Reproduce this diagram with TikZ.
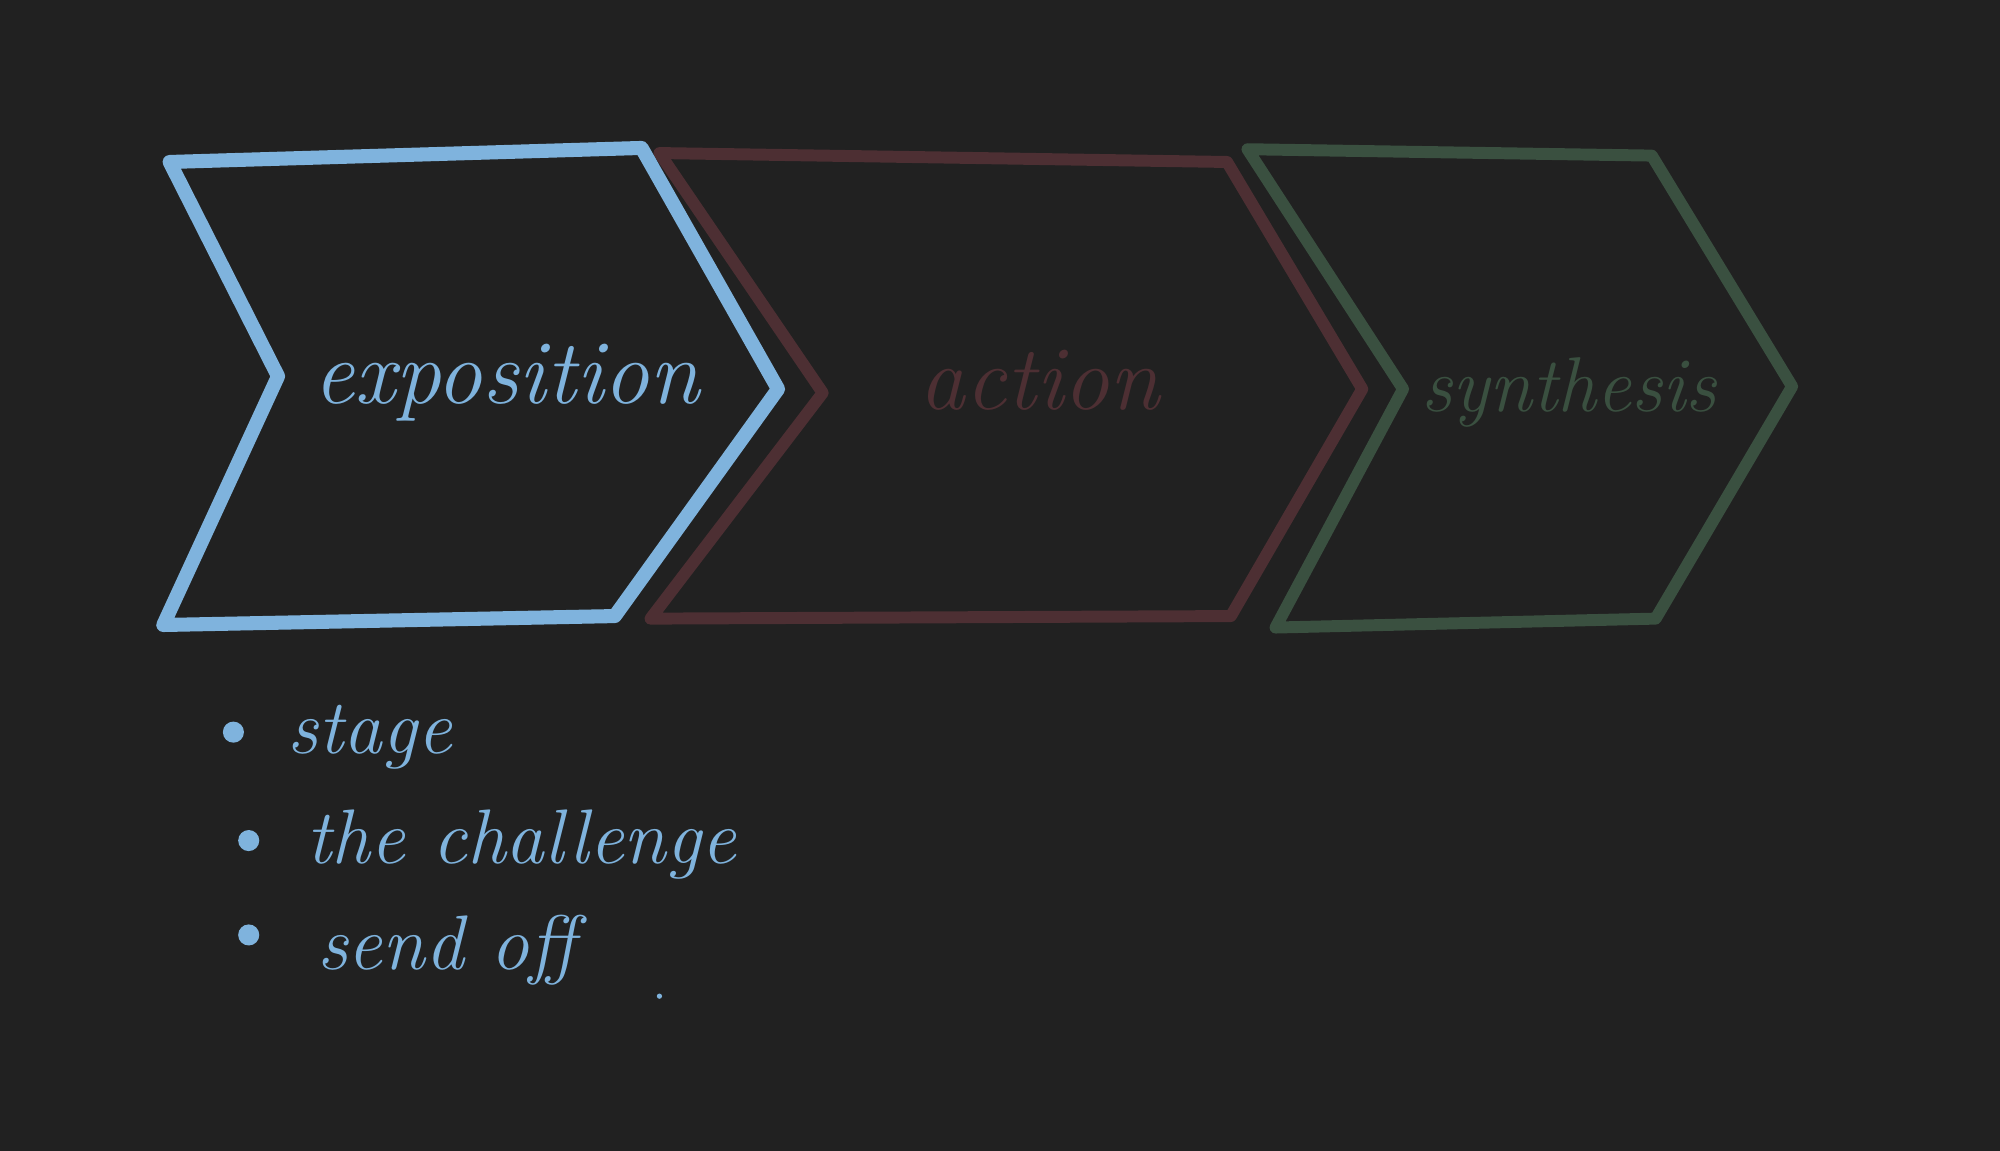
\documentclass[tikz,border=0pt]{standalone}
\usepackage{fontspec}
\definecolor{bg}{HTML}{212121}
\definecolor{cblue}{HTML}{7FB3DD}
\definecolor{cred}{HTML}{4D2F33}
\definecolor{cgreen}{HTML}{3A5040}
\tikzset{
  chev/.style={line width=3.4pt, line join=round, line cap=round},
  lbl/.style={font=\fontsize{26}{30}\selectfont\itshape, inner sep=0pt},
  itm/.style={font=\fontsize{22}{26}\selectfont\itshape, inner sep=0pt, anchor=west, text=cblue},
  dotm/.style={circle, fill=cblue, minimum size=6pt, inner sep=0pt}
}
\begin{document}
\begin{tikzpicture}[x=0.012755cm, y=-0.012755cm]
\fill[bg] (0,0) rectangle (1568,902);
\useasboundingbox (0,0) rectangle (1568,902);
\draw[chev, cgreen] (978,117) -- (1295,122) -- (1405,303) -- (1298,485) -- (1000,492) -- (1100,305) -- cycle;
\draw[chev, cred] (517,120) -- (962,127) -- (1068,305) -- (965,483) -- (510,485) -- (645,308) -- cycle;
\draw[chev, cblue, line width=4pt] (133,127) -- (503,116) -- (610,305) -- (482,483) -- (128,490) -- (218,295) -- cycle;
\node[lbl, text=cblue] (expo) at (397,300) {exposition};
\node[lbl, text=cred] (act) at (815,298) {action};
\node[lbl, text=cgreen, scale=0.85] (syn) at (1230,308) {synthesis};
\node[dotm] (d1) at (183,574) {};
\node[dotm] (d2) at (195,659) {};
\node[dotm] (d3) at (195,733) {};
\node[itm] (t1) at (225,578) {stage};
\node[itm] (t2) at (240,662) {the challenge};
\node[itm] (t3) at (248,745) {send off};
\node[circle, fill=cblue, minimum size=1.5pt, inner sep=0pt] (sp) at (517,781) {};
\end{tikzpicture}
\end{document}
